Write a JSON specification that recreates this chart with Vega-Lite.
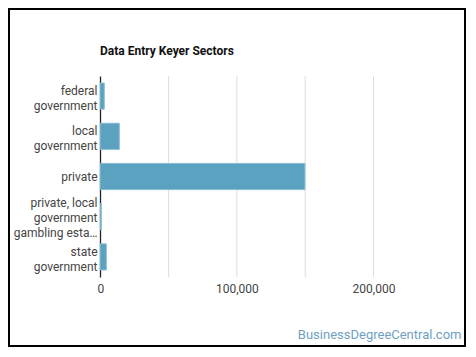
{
  "$schema": "https://vega.github.io/schema/vega-lite/v6.json",
  "width": 456,
  "height": 337,
  "autosize": {"type": "none"},
  "padding": {"left": 9, "top": 9, "right": 11, "bottom": 11},
  "background": "white",
  "config": {"view": {"stroke": "black", "strokeWidth": 2}, "font": "Roboto"},
  "title": {"text": "Data Entry Keyer Sectors", "anchor": "start", "frame": "group", "dx": 91, "offset": -49, "fontSize": 12, "fontWeight": "bold", "color": "#111111", "font": "Roboto", "baseline": "top"},
  "data": {"values": [
    {"sector": "federal government", "employment": 2900},
    {"sector": "local government", "employment": 13900},
    {"sector": "private", "employment": 149800},
    {"sector": "private, local government gambling establishments", "employment": 700},
    {"sector": "state government", "employment": 4400}
  ]},
  "resolve": {"scale": {"y": "independent"}, "axis": {"y": "independent"}},
  "layer": [
    {
      "transform": [{"aggregate": [{"op": "count", "as": "n"}]}],
      "mark": {"type": "rule", "color": "#dddddd", "strokeWidth": 1},
      "encoding": {
        "x": {"datum": 50000, "type": "quantitative", "scale": {"domain": [-66840, 266980], "nice": false, "zero": false}},
        "y": {"datum": 0, "type": "quantitative", "scale": {"domain": [-0.3433, 1.3333], "nice": false, "zero": false}, "axis": null},
        "y2": {"datum": 1}
      }
    },
    {
      "transform": [{"aggregate": [{"op": "count", "as": "n"}]}],
      "mark": {"type": "rule", "color": "#dddddd", "strokeWidth": 1},
      "encoding": {
        "x": {"datum": 100000, "type": "quantitative", "scale": {"domain": [-66840, 266980], "nice": false, "zero": false}},
        "y": {"datum": 0, "type": "quantitative", "scale": {"domain": [-0.3433, 1.3333], "nice": false, "zero": false}, "axis": null},
        "y2": {"datum": 1}
      }
    },
    {
      "transform": [{"aggregate": [{"op": "count", "as": "n"}]}],
      "mark": {"type": "rule", "color": "#dddddd", "strokeWidth": 1},
      "encoding": {
        "x": {"datum": 150000, "type": "quantitative", "scale": {"domain": [-66840, 266980], "nice": false, "zero": false}},
        "y": {"datum": 0, "type": "quantitative", "scale": {"domain": [-0.3433, 1.3333], "nice": false, "zero": false}, "axis": null},
        "y2": {"datum": 1}
      }
    },
    {
      "transform": [{"aggregate": [{"op": "count", "as": "n"}]}],
      "mark": {"type": "rule", "color": "#dddddd", "strokeWidth": 1},
      "encoding": {
        "x": {"datum": 200000, "type": "quantitative", "scale": {"domain": [-66840, 266980], "nice": false, "zero": false}},
        "y": {"datum": 0, "type": "quantitative", "scale": {"domain": [-0.3433, 1.3333], "nice": false, "zero": false}, "axis": null},
        "y2": {"datum": 1}
      }
    },
    {
      "mark": {"type": "bar", "color": "#5ba1c0", "stroke": "#86bdd4", "strokeWidth": 1},
      "encoding": {
        "y": {"field": "sector", "type": "nominal", "sort": null,
          "scale": {"range": [67, 268], "paddingInner": 0.35, "paddingOuter": 0.175},
          "axis": {"title": null, "offset": -91, "domain": true, "domainColor": "#222222", "domainWidth": 1.3, "ticks": false, "grid": false, "labelPadding": 3, "labelFontSize": 12, "labelColor": "#444444", "labelLineHeight": 15, "labelFont": "Roboto", "labelLimit": 200,
            "labelOffset": {"condition": [
              {"test": "datum.value == 'private, local government gambling establishments'", "value": -14},
              {"test": "datum.value == 'private'", "value": 0}
            ], "value": -5},
            "labelExpr": "datum.value == 'private, local government gambling establishments' ? ['private, local', 'government', 'gambling esta…'] : split(datum.value, ' ')"}},
        "x": {"field": "employment", "type": "quantitative",
          "scale": {"domain": [-66840, 266980], "nice": false, "zero": false},
          "axis": {"values": [0, 100000, 200000], "format": ",", "labelExpr": "format(datum.value, ',')", "offset": -69, "domain": false, "ticks": false, "grid": false, "labelPadding": 6, "labelFontSize": 12, "labelColor": "#444444", "labelFont": "Roboto",
            "title": "BusinessDegreeCentral.com", "titleAnchor": "end", "titleX": 452, "titleColor": "#6f9fc3", "titleFontSize": 13, "titleFontWeight": "normal", "titlePadding": 34, "titleFont": "Roboto"}},
        "x2": {"datum": 0}
      }
    }
  ]
}
